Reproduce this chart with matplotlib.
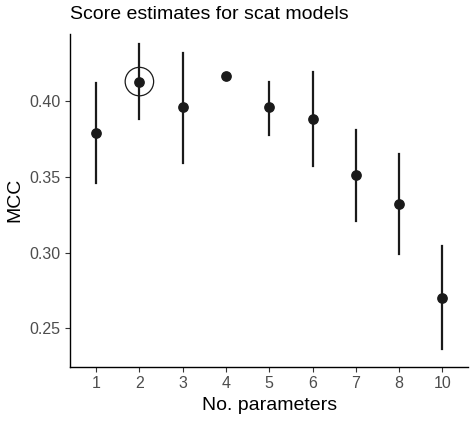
import matplotlib
matplotlib.use("Agg")
import matplotlib.pyplot as plt

plt.rcParams['font.family'] = ['Liberation Sans', 'DejaVu Sans']

params = ["1", "2", "3", "4", "5", "6", "7", "8", "10"]
mcc = [0.379, 0.413, 0.396, 0.417, 0.396, 0.388, 0.351, 0.332, 0.270]
lower = [0.346, 0.388, 0.359, 0.416, 0.378, 0.357, 0.321, 0.299, 0.236]
upper = [0.412, 0.438, 0.432, 0.418, 0.413, 0.419, 0.381, 0.365, 0.304]
best = "2"

fig = plt.figure(figsize=(4.74, 4.24), dpi=100)
ax = fig.add_axes([0.148, 0.135, 0.84, 0.785])
x = list(range(1, len(params) + 1))
for xi, m, lo, hi in zip(x, mcc, lower, upper):
    ax.plot([xi, xi], [lo, hi], color="#1a1a1a", lw=1.6, zorder=2)
ax.scatter(x, mcc, s=45, color="#1a1a1a", zorder=3)
bi = params.index(best)
ax.scatter([x[bi]], [mcc[bi]], s=420, facecolor="none", edgecolor="#1a1a1a", lw=0.9, zorder=3)

ax.set_xticks(x)
ax.set_xticklabels(params)
ax.set_yticks([0.25, 0.30, 0.35, 0.40])
ax.set_yticklabels(["0.25", "0.30", "0.35", "0.40"])
ax.set_xlim(0.4, 9.6)
ax.set_ylim(0.2245, 0.4445)
for s in ["top", "right"]:
    ax.spines[s].set_visible(False)
for s in ["left", "bottom"]:
    ax.spines[s].set_linewidth(1.0)
ax.tick_params(colors="#333333", labelsize=11.5, labelcolor="#4d4d4d")
ax.set_xlabel("No. parameters", fontsize=14)
ax.set_ylabel("MCC", fontsize=14)
fig.text(0.148, 0.955, "Score estimates for scat models", fontsize=14)
fig.savefig("out.png", dpi=100)
